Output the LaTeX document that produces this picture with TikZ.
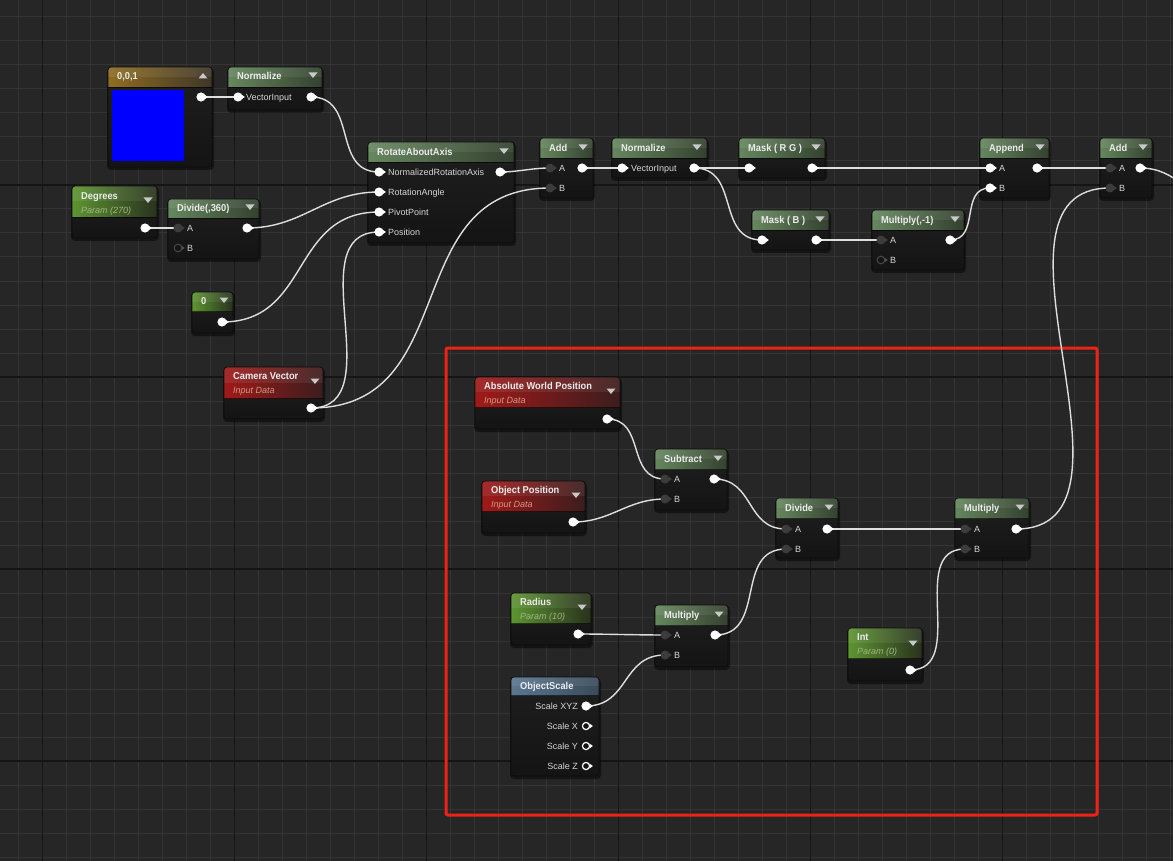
\documentclass[tikz,border=0pt]{standalone}
\usepackage{fontspec}
\setmainfont{Liberation Sans}
\newfontfamily\ttlfont[FakeStretch=0.93]{Liberation Sans Bold}
\usetikzlibrary{fit,calc}
\definecolor{bgc}{HTML}{262626}
\definecolor{minorc}{HTML}{343434}
\definecolor{majorc}{HTML}{151515}
\definecolor{bodytop}{HTML}{1f1f1f}
\definecolor{bodybot}{HTML}{141414}
\definecolor{edgec}{HTML}{0c0c0c}
\definecolor{fgL}{HTML}{66875f}
\definecolor{fgR}{HTML}{34412f}
\definecolor{pgL}{HTML}{5e9532}
\definecolor{pgR}{HTML}{28321d}
\definecolor{rdL}{HTML}{a01a1a}
\definecolor{rdR}{HTML}{3c1d1d}
\definecolor{gdL}{HTML}{8f6d22}
\definecolor{gdR}{HTML}{3f3628}
\definecolor{blL}{HTML}{5a7791}
\definecolor{blR}{HTML}{3a4a59}
\definecolor{ttlc}{HTML}{ececec}
\definecolor{plc}{HTML}{d6d6d6}
\definecolor{psub}{HTML}{9fb583}
\definecolor{rsub}{HTML}{cf9a7e}
\definecolor{ddc}{HTML}{c8c8c8}
\definecolor{wirec}{HTML}{dedede}
\definecolor{pingray}{HTML}{3c3c3c}
\definecolor{pinhole}{HTML}{141414}
\definecolor{pinedge}{HTML}{4a4a4a}
\definecolor{redbox}{HTML}{ee2218}
\tikzset{
  ttlst/.style={anchor=west,inner sep=0pt,text=ttlc,font=\ttlfont\fontsize{10}{12}\selectfont,text height=7.3pt,text depth=2.2pt},
  subst/.style={anchor=west,inner sep=0pt,font=\fontsize{9}{11}\selectfont\itshape,text height=6.8pt,text depth=2pt},
  plst/.style={inner sep=0pt,text=plc,font=\fontsize{9}{11}\selectfont,text height=6.6pt,text depth=2pt},
  wire/.style={draw=wirec,line width=1.4pt},
}
\newcommand\uenode[8]{%
  \fill[black,opacity=.45,rounded corners=4pt] (#2-1,#3+1) rectangle (#4+2,#5+3);
  \node[fit={(#2,#3)(#4,#5)},inner sep=0pt,rounded corners=3pt,top color=bodytop,bottom color=bodybot] (#1) {};
  \begin{scope}
    \clip[rounded corners=3pt] (#2,#3) rectangle (#4,#5);
    \fill[left color=#7,right color=#8] (#2,#3) rectangle (#4,#6);
    \fill[white,opacity=.07] (#2,#3) rectangle (#4,{(#3+#6)/2});
    \draw[black,opacity=.6,line width=.8pt] (#2,#6) -- (#4,#6);
  \end{scope}
  \draw[edgec,line width=.7pt,rounded corners=3pt] (#2,#3) rectangle (#4,#5);
}
\newcommand\ttl[4]{\node[ttlst] (#1) at (#2,#3+1.2) {#4};}
\newcommand\subt[5]{\node[subst,text=#5] (#1) at (#2,#3+1) {#4};}
\newcommand\dd[2]{\fill[ddc] (#1-4.5,#2-2.5) -- (#1+4.5,#2-2.5) -- (#1,#2+3) -- cycle;}
\newcommand\plab[4]{\node[plst,anchor=west] (#1) at (#2,#3+1.3) {#4};}
\newcommand\plabr[4]{\node[plst,anchor=east] (#1) at (#2,#3+1.3) {#4};}
\newcommand\pintri[2]{\fill[#2] ($(#1)+(3.6,-2.4)$) -- ($(#1)+(6.9,0)$) -- ($(#1)+(3.6,2.4)$) -- cycle;}
\newcommand\pinW[1]{\fill[white] (#1) circle[radius=4.6pt]; \pintri{#1}{white}}
\newcommand\pinG[1]{\fill[pingray] (#1) circle[radius=4.5pt]; \pintri{#1}{pingray}}
\newcommand\pinH[1]{\filldraw[fill=pinhole,draw=pinedge,line width=1pt] (#1) circle[radius=3.8pt]; \pintri{#1}{pinedge}}
\newcommand\pinO[1]{\filldraw[fill=pinhole,draw=white,line width=1.2pt] (#1) circle[radius=3.6pt]; \pintri{#1}{white}}
\newcommand\wire[2]{\draw[wire] let \p1=(#1),\p2=(#2),\n1={(abs(\x2-\x1)+abs(\y2-\y1))/3} in (#1) .. controls +(\n1,0) and +(-\n1,0) .. (#2);}
\begin{document}
\begin{tikzpicture}[x=1pt,y=-1pt]
\useasboundingbox (0,0) rectangle (1173,861);
\clip (0,0) rectangle (1173,861);
% ---------- grid
\fill[bgc] (0,0) rectangle (1173,861);
\foreach \i in {0,...,48} \draw[minorc,line width=1pt] (18.7+24*\i,0) -- (18.7+24*\i,861);
\foreach \i in {0,...,35} \draw[minorc,line width=1pt] (0,17+24*\i) -- (1173,17+24*\i);
\foreach \i in {0,...,5} \draw[majorc,line width=1.2pt] (42.7+192*\i,0) -- (42.7+192*\i,861);
\foreach \i in {0,...,3} \draw[majorc,line width=1.2pt] (0,185+192*\i) -- (1173,185+192*\i);
% ---------- red frame
\draw[redbox,line width=3pt,rounded corners=2pt] (446,348) rectangle (1097,815);
% ---------- nodes
\uenode{cst}{108}{67}{212}{167}{87}{gdL}{gdR}
\ttl{cstT}{117}{76}{0,0,1}
\fill[ddc] (198.5,78.5) -- (207.5,78.5) -- (203,73) -- cycle;
\fill[blue] (112,90) rectangle (184,161);
\coordinate (cstout) at (201,97);

\uenode{nrm1}{228}{67}{322}{110}{87}{fgL}{fgR}
\ttl{nrm1T}{237}{76}{Normalize}\dd{313}{75}
\coordinate (nrm1in) at (238,97); \coordinate (nrm1out) at (311,97);
\plab{nrm1L}{246}{97}{VectorInput}

\uenode{deg}{72}{186}{157}{238}{217}{pgL}{pgR}
\ttl{degT}{81}{196}{Degrees}\subt{degS}{81}{210}{Param (270)}{psub}\dd{148}{200}
\coordinate (degout) at (145,228);

\uenode{div1}{168}{199}{259}{259}{218}{fgL}{fgR}
\ttl{div1T}{177}{208}{Divide(,360)}\dd{250}{207}
\coordinate (div1a) at (178,228); \coordinate (div1b) at (178,248); \coordinate (div1out) at (247,228);
\plab{div1La}{187}{228}{A}\plab{div1Lb}{187}{248}{B}

\uenode{rot}{368}{142}{514}{243}{162}{fgL}{fgR}
\ttl{rotT}{377}{152}{RotateAboutAxis}\dd{504}{151}
\coordinate (rotn) at (379,172); \coordinate (rotr) at (379,192);
\coordinate (rotp) at (379,212); \coordinate (rotpos) at (379,232);
\coordinate (rotout) at (500,172);
\plab{rotL1}{388}{172}{NormalizedRotationAxis}
\plab{rotL2}{388}{192}{RotationAngle}
\plab{rotL3}{388}{212}{PivotPoint}
\plab{rotL4}{388}{232}{Position}

\uenode{add1}{540}{138}{593}{198}{158}{fgL}{fgR}
\ttl{add1T}{549}{148}{Add}\dd{583}{147}
\coordinate (add1a) at (550,168); \coordinate (add1b) at (550,188); \coordinate (add1out) at (582,168);
\plab{add1La}{559}{168}{A}\plab{add1Lb}{559}{188}{B}

\uenode{nrm2}{612}{138}{707}{178}{158}{fgL}{fgR}
\ttl{nrm2T}{621}{148}{Normalize}\dd{697}{147}
\coordinate (nrm2in) at (622,168); \coordinate (nrm2out) at (694,168);
\plab{nrm2L}{631}{168}{VectorInput}

\uenode{mrg}{739}{138}{825}{178}{158}{fgL}{fgR}
\ttl{mrgT}{748}{148}{Mask ( R G )}\dd{816}{147}
\coordinate (mrgin) at (749,168); \coordinate (mrgout) at (812,168);

\uenode{mb}{752}{210}{829}{250}{230}{fgL}{fgR}
\ttl{mbT}{761}{220}{Mask ( B )}\dd{820}{219}
\coordinate (mbin) at (762,240); \coordinate (mbout) at (816,240);

\uenode{mul1}{872}{210}{964}{270}{230}{fgL}{fgR}
\ttl{mul1T}{881}{220}{Multiply(,-1)}\dd{955}{219}
\coordinate (mul1a) at (881,240); \coordinate (mul1b) at (881,260); \coordinate (mul1out) at (950,240);
\plab{mul1La}{890}{240}{A}\plab{mul1Lb}{890}{260}{B}

\uenode{app}{980}{138}{1049}{198}{158}{fgL}{fgR}
\ttl{appT}{989}{148}{Append}\dd{1040}{147}
\coordinate (appa) at (990,168); \coordinate (appb) at (990,188); \coordinate (appout) at (1037,168);
\plab{appLa}{999}{168}{A}\plab{appLb}{999}{188}{B}

\uenode{add2}{1100}{138}{1152}{198}{158}{fgL}{fgR}
\ttl{add2T}{1109}{148}{Add}\dd{1143}{147}
\coordinate (add2a) at (1110,168); \coordinate (add2b) at (1110,188); \coordinate (add2out) at (1140,168);
\plab{add2La}{1119}{168}{A}\plab{add2Lb}{1119}{188}{B}
\coordinate (offR) at (1225,200);

\uenode{zero}{192}{292}{233}{333}{311}{pgL}{pgR}
\ttl{zeroT}{201}{301}{0}\dd{224}{300}
\coordinate (zout) at (222,322);

\uenode{cam}{224}{367}{323}{419}{398}{rdL}{rdR}
\ttl{camT}{233}{376}{Camera Vector}\subt{camS}{233}{390}{Input Data}{rsub}\dd{315}{381}
\coordinate (camout) at (311,408);

\uenode{awp}{475}{377}{620}{429}{407}{rdL}{rdR}
\ttl{awpT}{484}{386}{Absolute World Position}\subt{awpS}{484}{400}{Input Data}{rsub}\dd{611}{391}
\coordinate (awpout) at (607,419);

\uenode{opos}{482}{481}{585}{533}{511}{rdL}{rdR}
\ttl{oposT}{491}{490}{Object Position}\subt{oposS}{491}{504}{Input Data}{rsub}\dd{576}{495}
\coordinate (oposout) at (573,522);

\uenode{sub}{655}{449}{727}{510}{469}{fgL}{fgR}
\ttl{subT}{664}{459}{Subtract}\dd{718}{458}
\coordinate (suba) at (665,479); \coordinate (subb) at (665,499); \coordinate (subout) at (714,479);
\plab{subLa}{674}{479}{A}\plab{subLb}{674}{499}{B}

\uenode{dvd}{776}{498}{838}{558}{518}{fgL}{fgR}
\ttl{dvdT}{785}{508}{Divide}\dd{829}{507}
\coordinate (dvda) at (786,529); \coordinate (dvdb) at (786,549); \coordinate (dvdout) at (827,529);
\plab{dvdLa}{795}{529}{A}\plab{dvdLb}{795}{549}{B}

\uenode{mul2}{655}{605}{728}{667}{625}{fgL}{fgR}
\ttl{mul2T}{664}{615}{Multiply}\dd{719}{614}
\coordinate (mul2a) at (665,635); \coordinate (mul2b) at (665,655); \coordinate (mul2out) at (715,635);
\plab{mul2La}{674}{635}{A}\plab{mul2Lb}{674}{655}{B}

\uenode{rad}{511}{593}{591}{645}{623}{pgL}{pgR}
\ttl{radT}{520}{602}{Radius}\subt{radS}{520}{616}{Param (10)}{psub}\dd{582}{607}
\coordinate (radout) at (578,634);

\uenode{osc}{511}{677}{599}{776}{695}{blL}{blR}
\ttl{oscT}{520}{686}{ObjectScale}
\coordinate (oscxyz) at (586,706); \coordinate (oscx) at (586,726);
\coordinate (oscy) at (586,746); \coordinate (oscz) at (586,766);
\plabr{oscL1}{578}{706}{Scale XYZ}\plabr{oscL2}{578}{726}{Scale X}
\plabr{oscL3}{578}{746}{Scale Y}\plabr{oscL4}{578}{766}{Scale Z}

\uenode{mul3}{955}{498}{1029}{558}{518}{fgL}{fgR}
\ttl{mul3T}{964}{508}{Multiply}\dd{1020}{507}
\coordinate (mul3a) at (965,529); \coordinate (mul3b) at (965,549); \coordinate (mul3out) at (1016,529);
\plab{mul3La}{974}{529}{A}\plab{mul3Lb}{974}{549}{B}

\uenode{int}{848}{628}{922}{681}{658}{pgL}{pgR}
\ttl{intT}{857}{637}{Int}\subt{intS}{857}{651}{Param (0)}{psub}\dd{913}{643}
\coordinate (intout) at (910,670);

% ---------- wires
\wire{cstout}{nrm1in}
\wire{nrm1out}{rotn}
\wire{degout}{div1a}
\wire{div1out}{rotr}
\wire{zout}{rotp}
\wire{camout}{rotpos}
\wire{camout}{add1b}
\wire{rotout}{add1a}
\wire{add1out}{nrm2in}
\wire{nrm2out}{mrgin}
\wire{nrm2out}{mbin}
\wire{mrgout}{appa}
\wire{mbout}{mul1a}
\wire{mul1out}{appb}
\wire{appout}{add2a}
\wire{add2out}{offR}
\wire{mul3out}{add2b}
\wire{awpout}{suba}
\wire{oposout}{subb}
\wire{subout}{dvda}
\wire{mul2out}{dvdb}
\wire{radout}{mul2a}
\wire{oscxyz}{mul2b}
\wire{dvdout}{mul3a}
\wire{intout}{mul3b}

% ---------- pins
\pinW{cstout}\pinW{nrm1in}\pinW{nrm1out}\pinW{degout}
\pinG{div1a}\pinH{div1b}\pinW{div1out}
\pinW{rotn}\pinW{rotr}\pinW{rotp}\pinW{rotpos}\pinW{rotout}
\pinG{add1a}\pinG{add1b}\pinW{add1out}
\pinW{nrm2in}\pinW{nrm2out}
\pinW{mrgin}\pinW{mrgout}\pinW{mbin}\pinW{mbout}
\pinG{mul1a}\pinH{mul1b}\pinW{mul1out}
\pinW{appa}\pinW{appb}\pinW{appout}
\pinG{add2a}\pinG{add2b}\pinW{add2out}
\pinW{zout}\pinW{camout}\pinW{awpout}\pinW{oposout}
\pinG{suba}\pinG{subb}\pinW{subout}
\pinG{dvda}\pinG{dvdb}\pinW{dvdout}
\pinG{mul2a}\pinG{mul2b}\pinW{mul2out}
\pinW{radout}
\pinW{oscxyz}\pinO{oscx}\pinO{oscy}\pinO{oscz}
\pinG{mul3a}\pinG{mul3b}\pinW{mul3out}
\pinW{intout}
\end{tikzpicture}
\end{document}
